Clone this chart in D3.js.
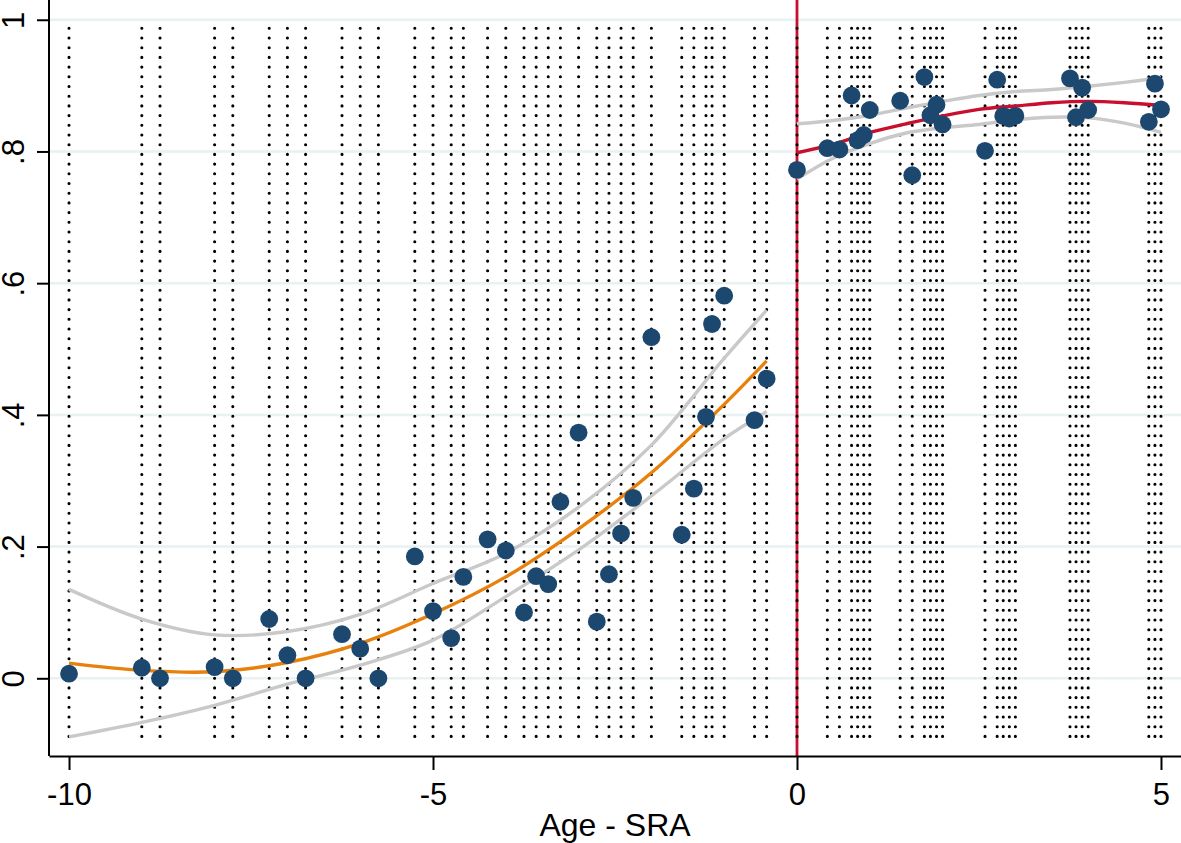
<!DOCTYPE html>
<html>
<head>
<meta charset="utf-8">
<script src="https://d3js.org/d3.v7.min.js"></script>
<style>
	body { margin: 0; background: #fff; }
	svg { display: block; font-family: "Liberation Sans", Arial, sans-serif; }
	.axis path, .axis line { stroke: #000; stroke-width: 2; }
	.axis text { font-size: 31px; fill: #000; }
</style>
</head>
<body>
<svg width="1181" height="843"></svg>
<script>
// scatter bins before the SRA (Age - SRA < 0)
var left_x = [-10, -9, -8.75, -8, -7.75, -7.25, -7, -6.75, -6.25, -6, -5.75, -5.25, -5, -4.75, -4.583,
	-4.25, -4, -3.75, -3.583, -3.417, -3.25, -3, -2.75, -2.583, -2.417, -2.25, -2, -1.583, -1.417,
	-1.25, -1.167, -1, -0.583, -0.417];
var left_y = [0.007, 0.016, 0.0, 0.017, 0.0, 0.090, 0.035, 0.0, 0.067, 0.045, 0.0, 0.185, 0.102, 0.061, 0.154,
	0.211, 0.194, 0.100, 0.155, 0.143, 0.268, 0.373, 0.086, 0.158, 0.220, 0.274, 0.518, 0.218, 0.288,
	0.397, 0.538, 0.581, 0.392, 0.455];

// scatter bins after the SRA
var right_x = [0, 0.417, 0.583, 0.75, 0.833, 0.917, 1, 1.417, 1.583, 1.75, 1.833, 1.917, 2, 2.583, 2.75,
	2.833, 2.917, 3, 3.75, 3.833, 3.917, 4, 4.833, 4.917, 5];
var right_y = [0.772, 0.805, 0.803, 0.885, 0.817, 0.825, 0.863, 0.877, 0.764, 0.913, 0.855, 0.871, 0.841, 0.801, 0.909,
	0.854, 0.850, 0.854, 0.911, 0.852, 0.897, 0.863, 0.845, 0.903, 0.864];

// fitted line and confidence band, left of cutoff
var fit_left_x = [-10, -9, -8, -7, -6, -5, -4, -3, -2, -1, -0.417];
var fit_left = [0.023, 0.012, 0.010, 0.024, 0.053, 0.098, 0.154, 0.227, 0.312, 0.416, 0.482];
var ci_left_hi = [0.135, 0.090, 0.066, 0.071, 0.097, 0.144, 0.190, 0.260, 0.354, 0.486, 0.559];
var ci_left_lo = [-0.089, -0.067, -0.041, -0.009, 0.020, 0.058, 0.124, 0.195, 0.277, 0.364, 0.405];

// fitted line and confidence band, right of cutoff
var fit_right_x = [0, 0.5, 1, 1.5, 2, 2.5, 3, 3.5, 4, 4.5, 5];
var fit_right = [0.798, 0.811, 0.829, 0.842, 0.854, 0.864, 0.869, 0.874, 0.876, 0.874, 0.870];
var ci_right_hi = [0.842, 0.847, 0.855, 0.866, 0.876, 0.885, 0.891, 0.894, 0.899, 0.905, 0.912];
var ci_right_lo = [0.758, 0.790, 0.812, 0.828, 0.836, 0.841, 0.848, 0.852, 0.851, 0.843, 0.829];

// vertical extent of the dotted bin markers
var drop_range = [-0.089, 0.987];

var x_ticks = [-10, -5, 0, 5];
var y_ticks = [0, 0.2, 0.4, 0.6, 0.8, 1];
var y_tick_labels = ["0", ".2", ".4", ".6", ".8", "1"];
var x_title = "Age - SRA";

var svg, border, width, height, xScale, yScale;

/**
	Set up the svg and the plot region
**/
function setup_svg(){
	svg = d3.select("svg");

	border = {
		top: 0,
		bottom: 87,
		left: 49,
		right: 0
	}

	width = +svg.attr("width") - border.left - border.right;
	height = +svg.attr("height") - border.top - border.bottom;

	svg = svg.append("g")
		.attr("transform", "translate(" + border.left + "," + border.top + ")");
}

/**
	x and y scales, padded like stata does
**/
function setup_scales(){
	xScale = d3.scaleLinear()
		.domain([-10.275, 5.275])
		.range([0, width]);

	yScale = d3.scaleLinear()
		.domain([-0.118, 1.03])
		.range([height, 0]);
}

/**
	Horizontal grid lines at the y ticks
**/
function draw_grid(){
	svg.selectAll("line.grid")
		.data(y_ticks)
		.enter()
		.append("line")
			.attr("class", "grid")
			.attr("x1", 0)
			.attr("x2", width)
			.attr("y1", (d) => yScale(d))
			.attr("y2", (d) => yScale(d))
			.attr("stroke", "#e9f1f2")
			.attr("stroke-width", 2.5);
}

/**
	Draws both axes, the tick labels and the x title
**/
function setup_axes(){
	// plain hyphen for the minus sign, like the original
	var xAxis = d3.axisBottom(xScale)
		.tickValues(x_ticks)
		.tickFormat((d) => String(d))
		.tickSize(14)
		.tickSizeOuter(0)
		.tickPadding(13);

	svg.append("g")
		.attr("class", "x axis")
		.attr("transform", "translate(0," + height + ")")
		.call(xAxis);

	var yAxis = d3.axisLeft(yScale)
		.tickValues(y_ticks)
		.tickFormat((d, i) => y_tick_labels[i])
		.tickSize(12)
		.tickSizeOuter(0);

	var gy = svg.append("g")
		.attr("class", "y axis")
		.call(yAxis);

	// stata writes the y labels vertically
	gy.selectAll("text")
		.attr("transform", "rotate(-90)")
		.attr("x", 0)
		.attr("y", -25)
		.attr("dy", 0)
		.style("text-anchor", "middle");

	// run the y axis line to the top of the svg
	gy.select("path.domain")
		.attr("d", "M0," + height + "V" + (-border.top));

	svg.append("text")
		.attr("x", width / 2)
		.attr("y", height + 80)
		.style("text-anchor", "middle")
		.style("font-size", "32px")
		.text(x_title);
}

/**
	Red cutoff line and the dotted lines at each bin
**/
function draw_cutoff_and_bins(){
	svg.append("line")
		.attr("x1", xScale(0))
		.attr("x2", xScale(0))
		.attr("y1", 0)
		.attr("y2", height)
		.attr("stroke", "#c8102e")
		.attr("stroke-width", 2.8);

	var bins = left_x.concat(right_x);
	svg.selectAll("line.bin")
		.data(bins)
		.enter()
		.append("line")
			.attr("class", "bin")
			.attr("x1", (d) => xScale(d))
			.attr("x2", (d) => xScale(d))
			.attr("y1", yScale(drop_range[1]))
			.attr("y2", yScale(drop_range[0]))
			.attr("stroke", "#000")
			.attr("stroke-width", 3.1)
			.attr("stroke-linecap", "round")
			.attr("stroke-dasharray", "0,9.7");
}

/**
	Draws a fitted curve from an x array and a y array
**/
function draw_curve(xs, ys, colour){
	var line = d3.line()
		.x((d) => xScale(d[0]))
		.y((d) => yScale(d[1]))
		.curve(d3.curveCatmullRom);

	svg.append("path")
		.datum(d3.zip(xs, ys))
		.attr("d", line)
		.attr("fill", "none")
		.attr("stroke", colour)
		.attr("stroke-width", 3.4);
}

/**
	Draws the binned means as circles
**/
function draw_circles(xs, ys){
	svg.append("g").selectAll("circle")
		.data(d3.zip(xs, ys))
		.enter()
		.append("circle")
			.attr("cx", (d) => xScale(d[0]))
			.attr("cy", (d) => yScale(d[1]))
			.attr("r", 8.9)
			.attr("fill", "#1c4870");
}

setup_svg();
setup_scales();
draw_grid();
draw_cutoff_and_bins();

draw_curve(fit_left_x, ci_left_hi, "#c9c9c9");
draw_curve(fit_left_x, ci_left_lo, "#c9c9c9");
draw_curve(fit_right_x, ci_right_hi, "#c9c9c9");
draw_curve(fit_right_x, ci_right_lo, "#c9c9c9");
draw_curve(fit_left_x, fit_left, "#e8800c");
draw_curve(fit_right_x, fit_right, "#c8102e");

draw_circles(left_x, left_y);
draw_circles(right_x, right_y);

setup_axes();
</script>
</body>
</html>
